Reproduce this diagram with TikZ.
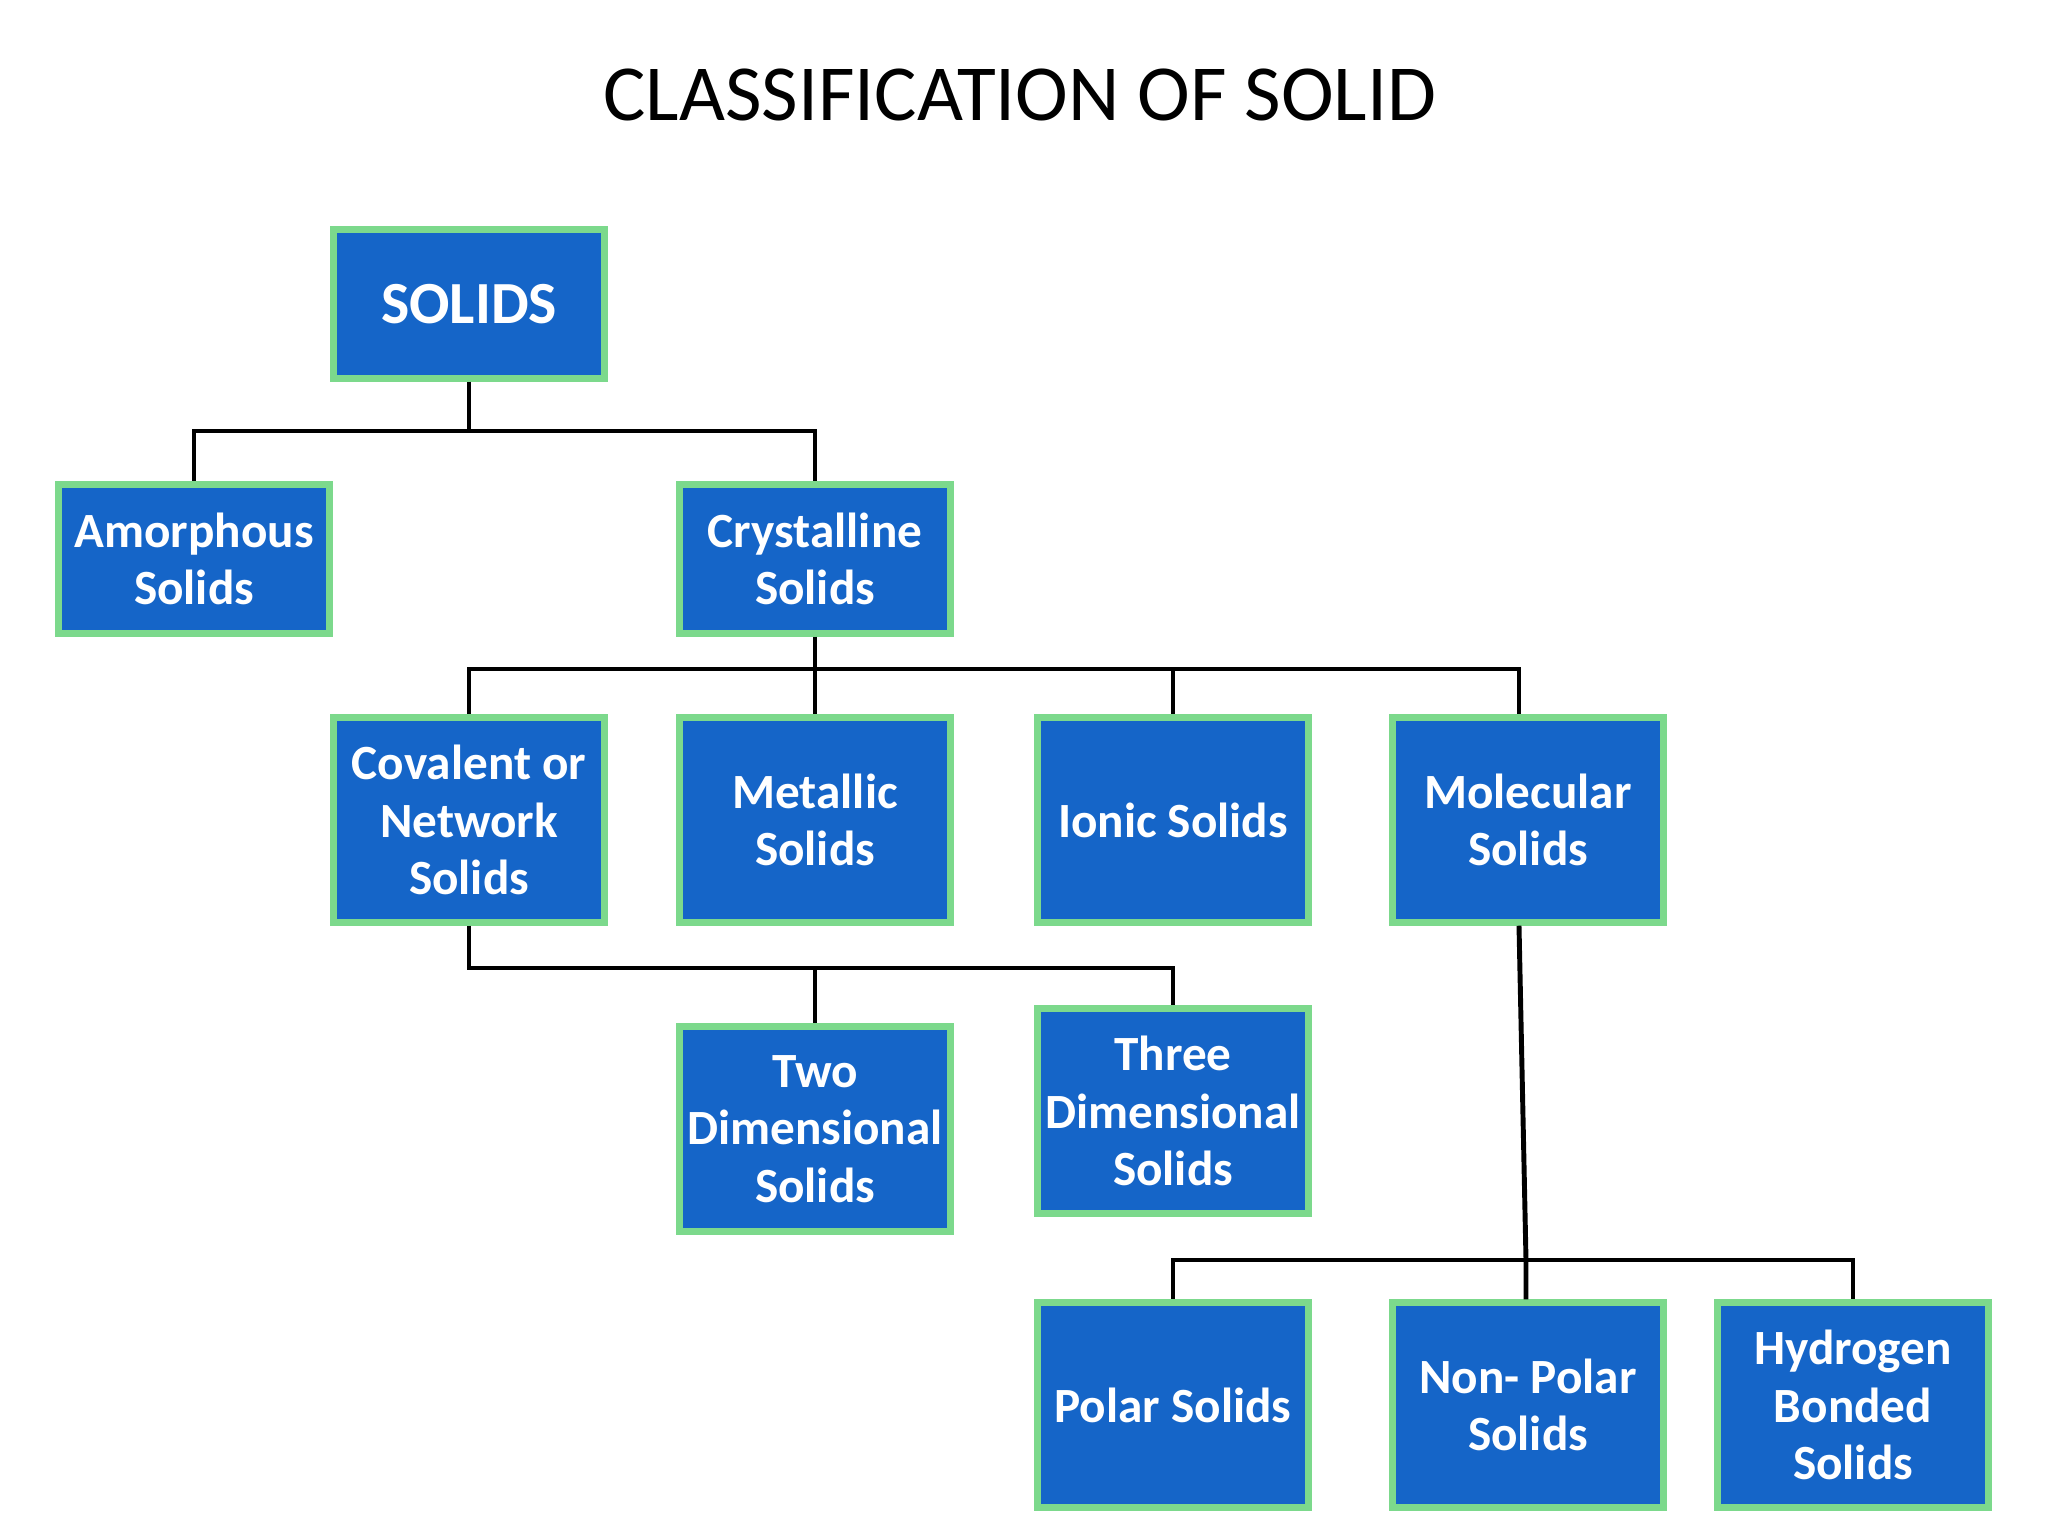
\documentclass[tikz,border=0pt]{standalone}
\usepackage{fontspec}
\setmainfont{Carlito}
\usepackage{tikz}
\definecolor{boxblue}{HTML}{1565C8}
\definecolor{boxgreen}{HTML}{7CD98C}

\begin{document}
\begin{tikzpicture}[x=0.01cm, y=-0.01cm, line width=1.4pt,
    box/.style={draw=boxgreen, line width=1.8pt, fill=boxblue, text=white,
        font=\fontsize{14}{16.3}\selectfont\bfseries, align=center,
        minimum width=2.71cm, minimum height=2.05cm, inner sep=1pt},
    lowbox/.style={box, minimum height=1.49cm}]
                \useasboundingbox[fill=white] (0,0) rectangle (2048,1536);
                \node (title) at (1020,95) {\fontsize{22.6}{26}\selectfont CLASSIFICATION OF SOLID};
                \node[lowbox, font=\fontsize{17}{20}\selectfont\bfseries] (solids) at (469,304) {SOLIDS};
                \node[lowbox] (amor) at (194,559) {Amorphous\\Solids};
                \node[lowbox] (cryst) at (815,559) {Crystalline\\Solids};
                \node[box] (cova) at (469,820) {Covalent or\\Network\\Solids};
                \node[box] (meta) at (815,820) {Metallic\\Solids};
                \node[box] (ionic) at (1173,820) {Ionic Solids};
                \node[box] (mole) at (1528,820) {Molecular\\Solids};
                \node[box] (twod) at (815,1129) {Two\\Dimensional\\Solids};
                \node[box] (threed) at (1173,1111) {Three\\Dimensional\\Solids};
                \node[box] (polar) at (1173,1405) {Polar Solids};
                \node[box] (nonpol) at (1528,1405) {Non- Polar\\Solids};
                \node[box] (hydro) at (1853,1405) {Hydrogen\\Bonded\\Solids};
                % branch points
                \coordinate (b1) at (469,431);
                \coordinate (b2) at (815,669);
                \coordinate (b3) at (469,968);
                \coordinate (b4) at (1526,1260);
                \draw (solids) -- (b1) -| (amor);
                \draw (b1) -| (cryst);
                \draw (cryst) -- (b2) -| (cova);
                \draw (b2) -| (ionic);
                \draw (b2) -| (meta);
                \draw (b2) -| (mole.north -| 1519,0);
                \draw (cova) -- (b3) -| (twod);
                \draw (b3) -| (threed);
                \draw (mole.south -| 1519,0) -- (b4) -- (nonpol.north -| b4);
                \draw (b4) -| (polar);
                \draw (b4) -| (hydro);
            \end{tikzpicture}
\end{document}
